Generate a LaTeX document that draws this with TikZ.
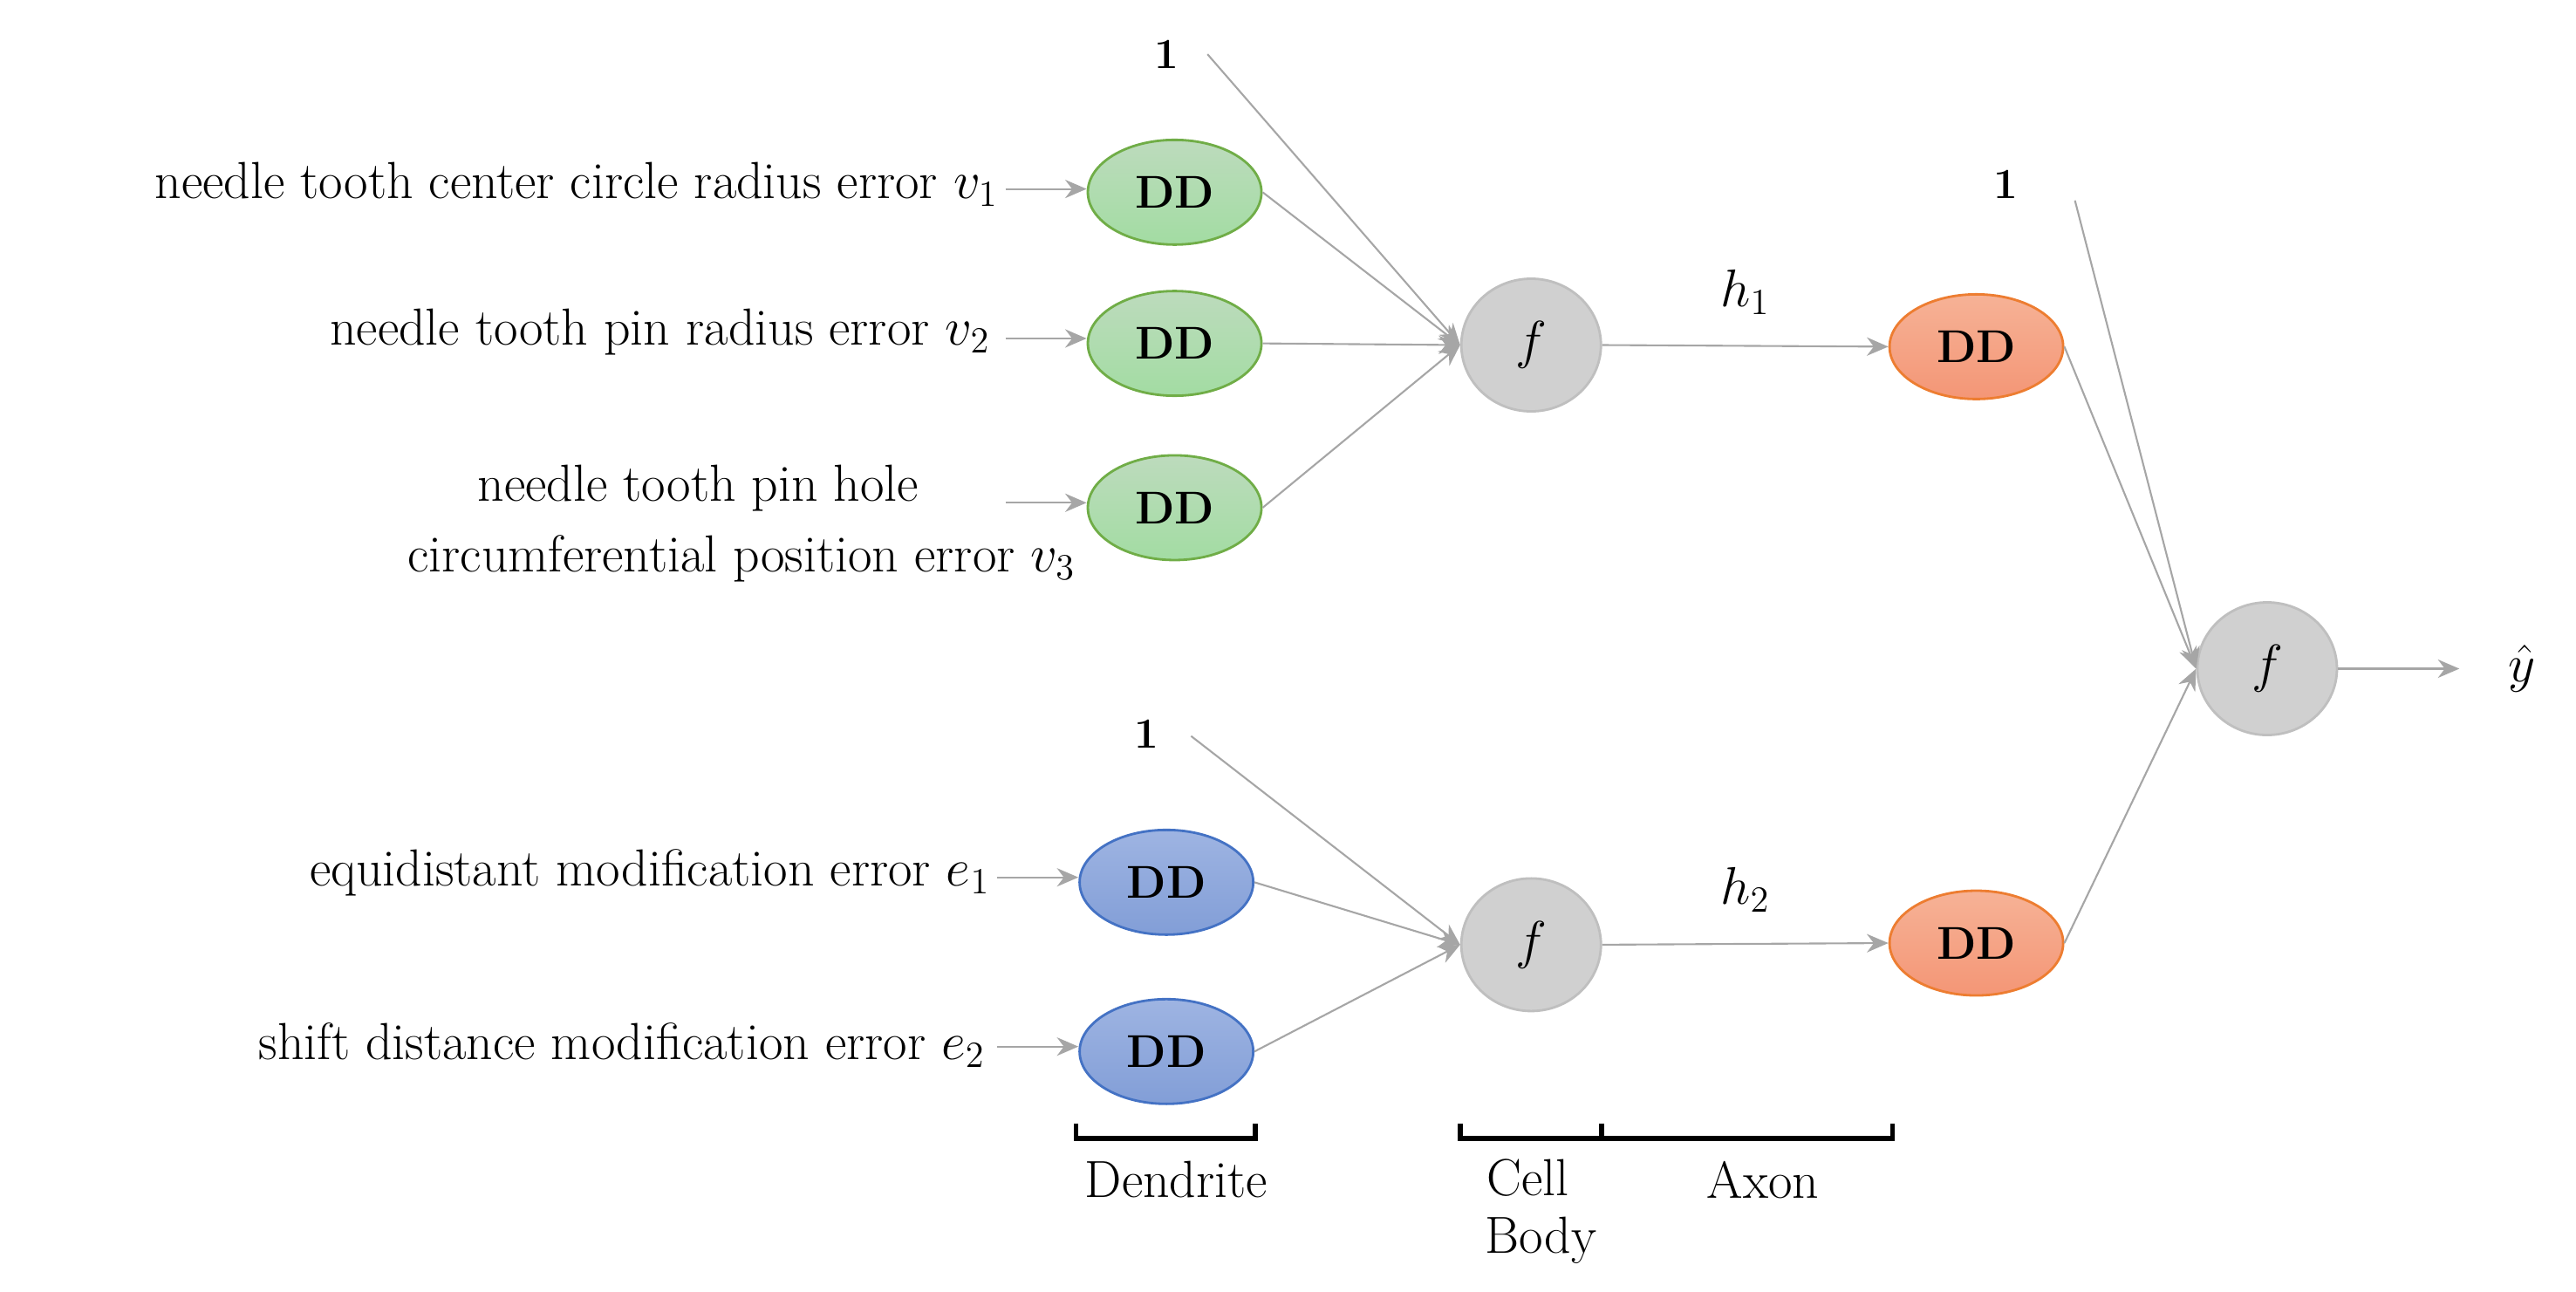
\documentclass[tikz,border=0pt]{standalone}
\usetikzlibrary{arrows.meta,shapes.geometric}
\begin{document}
\begin{tikzpicture}[x=0.01883cm,y=-0.01883cm,
  dd/.style={ellipse,draw,line width=0.8pt,inner sep=0pt,minimum width=1.99cm,minimum height=1.2cm,font=\fontsize{15}{18}\selectfont\bfseries},
  gdd/.style={dd,top color=green!30!gray!40,bottom color=green!45!gray!50,draw={rgb,255:red,112;green,173;blue,71}},
  bdd/.style={dd,top color={rgb,255:red,158;green,180;blue,226},bottom color={rgb,255:red,130;green,158;blue,215},draw={rgb,255:red,68;green,114;blue,196}},
  odd/.style={dd,top color={rgb,255:red,246;green,178;blue,150},bottom color={rgb,255:red,244;green,150;blue,118},draw={rgb,255:red,237;green,125;blue,49}},
  fn/.style={ellipse,minimum width=1.6cm,minimum height=1.52cm,inner sep=0pt,fill={rgb,255:red,208;green,208;blue,208},draw={rgb,255:red,191;green,191;blue,191},line width=0.8pt,font=\fontsize{17}{20}\selectfont},
  ar/.style={draw={rgb,255:red,166;green,166;blue,166},line width=0.6pt,-{Stealth[length=7pt,width=6pt]}},
  lab/.style={font=\fontsize{17}{20}\selectfont,inner sep=0pt},
  one/.style={font=\fontsize{14}{17}\selectfont\bfseries,inner sep=0pt},
  br/.style={line width=1.6pt}]
\useasboundingbox (0,0) rectangle (1568,786);
\node[gdd] (a1) at (715,117) {DD};
\node[gdd] (a2) at (715,209) {DD};
\node[gdd] (a3) at (715,309) {DD};
\node[bdd] (b1) at (710,537) {DD};
\node[bdd] (b2) at (710,640) {DD};
\node[fn] (f1) at (932,210) {$f$};
\node[fn] (f2) at (932,575) {$f$};
\node[fn] (f3) at (1380,407) {$f$};
\node[odd] (o1) at (1203,211) {DD};
\node[odd] (o2) at (1203,574) {DD};
\node[one] (one1) at (710,33) {1};
\node[one] (one2) at (698,447) {1};
\node[one] (one3) at (1221,112) {1};
\coordinate (s1) at (735,33);
\coordinate (s2) at (725,448);
\coordinate (s3) at (1263,122);
\node[lab,anchor=east] (l1) at (608,112) {needle tooth center circle radius error $v_1$};
\node[lab,anchor=east] (l2) at (603,202) {needle tooth pin radius error $v_2$};
\node[lab] (l3a) at (425,297) {needle tooth pin hole};
\node[lab,anchor=east] (l3b) at (655,340) {circumferential position error $v_3$};
\node[lab,anchor=east] (l4) at (603,531) {equidistant modification error $e_1$};
\node[lab,anchor=east] (l5) at (600,636) {shift distance modification error $e_2$};
\coordinate (i1) at (612,115);
\coordinate (i2) at (612,206);
\coordinate (i3) at (612,306);
\coordinate (i4) at (607,534);
\coordinate (i5) at (607,637);
\coordinate (out) at (1497,407);
\draw[ar] (i1) -- (a1.west|-i1);
\draw[ar] (i2) -- (a2.west|-i2);
\draw[ar] (i3) -- (a3.west|-i3);
\draw[ar] (i4) -- (b1.west|-i4);
\draw[ar] (i5) -- (b2.west|-i5);
\draw[ar] (s1) -- (f1.west);
\draw[ar] (a1.east) -- (f1.west);
\draw[ar] (a2.east) -- (f1.west);
\draw[ar] (a3.east) -- (f1.west);
\draw[ar] (s2) -- (f2.west);
\draw[ar] (b1.east) -- (f2.west);
\draw[ar] (b2.east) -- (f2.west);
\draw[ar] (f1.east) -- node[lab,above=10pt] (h1) {$h_1$} (o1.west);
\draw[ar] (f2.east) -- node[lab,above=10pt] (h2) {$h_2$} (o2.west);
\draw[ar] (s3) -- (f3.west);
\draw[ar] (o1.east) -- (f3.west);
\draw[ar] (o2.east) -- (f3.west);
\draw[ar] (f3.east) -- (out);
\node[lab] (yh) at (1535,407) {$\hat{y}$};
\draw[br] (655,684) -- (655,693) -- (764,693) -- (764,684);
\draw[br] (889,684) -- (889,693) -- (1152,693) -- (1152,684);
\draw[br] (975,684) -- (975,693);
\node[lab] (dl) at (716,718) {Dendrite};
\node[lab] (cl) at (930,717) {Cell};
\node[lab] (bl) at (938,755) {Body};
\node[lab] (xl) at (1073,718) {Axon};
\end{tikzpicture}
\end{document}
